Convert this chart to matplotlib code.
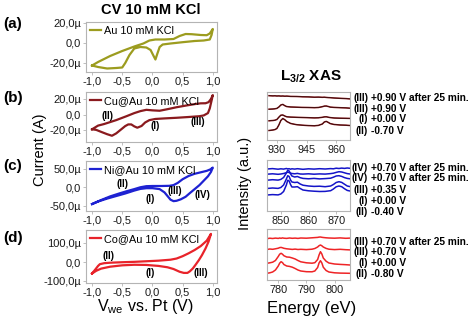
import numpy as np
import matplotlib
matplotlib.use("Agg")
import matplotlib.pyplot as plt
from matplotlib.transforms import blended_transform_factory

plt.rcParams["font.family"] = ["Liberation Sans", "DejaVu Sans"]
plt.rcParams["mathtext.fontset"] = "custom"
plt.rcParams["mathtext.rm"] = "Liberation Sans"
plt.rcParams["mathtext.bf"] = "Liberation Sans:bold"

# ---- cyclic voltammograms (V vs. Pt, current in uA), forward then reverse sweep
au_v = [-1.0, -0.9, -0.7, -0.5, -0.3, -0.15, -0.05, 0.05, 0.2, 0.35, 0.45, 0.55, 0.65, 0.8, 0.9, 0.95, 1.0,
        0.98, 0.95, 0.85, 0.7, 0.5, 0.3, 0.17, 0.12, 0.08, 0.05, 0.02, -0.03, -0.1, -0.2, -0.3, -0.38,
        -0.45, -0.5, -0.6, -0.75, -0.9, -1.0]
au_i = [-22.5, -19, -13, -8, -3.5, -0.5, 2.5, 3.5, 3.5, 4, 7, 9, 8.8, 8, 7.8, 9.5, 14,
        8, 3.5, 2.5, 2, 0.8, -0.5, -1.5, -4, -11, -16.5, -13, -7, -4.5, -4, -5.5, -12,
        -20, -24.5, -25, -25.5, -24, -22.5]

cu_v = [-1.0, -0.9, -0.8, -0.6, -0.43, -0.3, -0.2, -0.1, 0.0, 0.12, 0.25, 0.4, 0.56, 0.7, 0.8, 0.88, 0.93,
        0.97, 1.0,
        0.98, 0.95, 0.92, 0.85, 0.78, 0.6, 0.4, 0.2, 0.05, -0.05, -0.12, -0.18, -0.25, -0.3, -0.35, -0.4,
        -0.45, -0.52, -0.6, -0.67, -0.75, -0.85, -0.93, -1.0]
cu_i = [-18.7, -14, -12, -7, -2, 2, 4.5, 6.2, 5.5, 5, 7, 9.5, 11.7, 13.5, 14.5, 14.6, 16,
        20, 25,
        18, 8, 2, -1, -2, -3, -4, -4.8, -5.5, -7, -10, -14.5, -16.7, -15, -12.5, -12.5,
        -14.6, -19, -24, -27, -25, -22, -19.5, -18.7]

ni_v = [-1.0, -0.85, -0.7, -0.55, -0.43, -0.3, -0.2, -0.1, 0.0, 0.15, 0.28, 0.35, 0.42, 0.5, 0.6, 0.7,
        0.8, 0.9, 0.96, 1.0,
        0.97, 0.92, 0.85, 0.78, 0.7, 0.62, 0.55, 0.47, 0.4, 0.35, 0.3, 0.25, 0.2, 0.12, 0.0, -0.1,
        -0.2, -0.3, -0.45, -0.6, -0.75, -0.9, -1.0]
ni_i = [-46, -35, -25, -17, -11, -5, 0, 3, 3.5, 3.5, 4, 6, 12, 22, 31, 37,
        41, 45, 49, 54,
        42, 30, 18, 6, -5, -16, -26, -33, -37, -38, -34, -24, -14, -5, -2.5, -2.5,
        -4.5, -9, -17, -24, -31, -39, -46]

co_v = [-1.0, -0.95, -0.9, -0.87, -0.8, -0.7, -0.5, -0.3, -0.1, 0.1, 0.3, 0.4, 0.5, 0.6, 0.7, 0.8,
        0.9, 0.97,
        0.93, 0.88, 0.82, 0.77, 0.72, 0.67, 0.62, 0.58, 0.52, 0.45, 0.35, 0.25, 0.1, -0.1, -0.3,
        -0.5, -0.7, -0.85, -0.93, -1.0]
co_i = [-59, -40, -20, -11, -6, -3.5, -1, 1, 4, 7, 12, 18, 30, 45, 62, 82,
        110, 145,
        105, 70, 35, 10, -12, -33, -48, -56, -56, -50, -36, -27, -20, -15, -14,
        -17, -24, -34, -45, -59]

cv_names = ["Au 10 mM KCl", "Cu@Au 10 mM KCl", "Ni@Au 10 mM KCl", "Co@Au 10 mM KCl"]
cv_ticks = [[-20, 0, 20], [-20, 0, 20], [-50, 0, 50], [-100, 0, 100]]
cv_ticklabels = [["-20,0µ", "0,0", "20,0µ"], ["-20,0µ", "0,0", "20,0µ"],
                 ["-50,0µ", "0,0", "50,0µ"], ["-100,0µ", "0,0", "100,0µ"]]
v_ticks = [-1.0, -0.5, 0.0, 0.5, 1.0]
v_ticklabels = ["-1,0", "-0,5", "0,0", "0,5", "1,0"]

# peak labels on the CVs: (panel, text, V, I)
cv_peaks = [(1, "(II)", -0.75, -2), (1, "(I)", 0.04, -14), (1, "(III)", 0.75, -10),
            (2, "(II)", -0.49, 9), (2, "(I)", -0.04, -33), (2, "(III)", 0.37, -11), (2, "(IV)", 0.83, -22),
            (3, "(II)", -0.72, 30), (3, "(I)", -0.04, -55), (3, "(III)", 0.8, -59)]

# ---- L3/2 XAS spectra (offset stacked, arb. units)
cu_e = [926, 928, 929, 930, 931, 932, 933, 934, 935, 937, 940, 943, 946, 949, 951, 953, 954, 955, 956,
        957, 959, 962, 965, 967]
cu_090_25 = [44.3, 44.1, 44.2, 44.0, 44.1, 43.9, 44.0, 43.8, 43.9, 43.6, 43.5, 43.2, 43.1, 42.8, 42.9,
             42.7, 42.8, 42.6, 42.4, 42.3, 42.0, 41.7, 41.4, 41.1]
cu_090 = [30.8, 31.0, 31.2, 31.6, 33.0, 35.0, 35.6, 34.3, 33.4, 33.0, 32.8, 32.6, 32.5, 32.3, 32.5, 33.3,
          33.9, 34.0, 33.5, 32.9, 32.6, 32.3, 32.1, 31.8]
cu_000 = [19.2, 19.5, 19.8, 20.5, 22.8, 24.8, 25.0, 24.0, 23.2, 22.9, 22.7, 22.5, 22.3, 22.1, 22.2, 22.7,
          23.1, 23.2, 22.8, 22.4, 22.0, 21.8, 21.7, 21.6]
cu_m070 = [9.5, 10.0, 10.4, 11.5, 15.0, 19.5, 21.5, 20.3, 18.5, 16.5, 15.3, 14.8, 14.4, 14.2, 14.6, 16.0,
           18.0, 18.6, 17.6, 16.4, 15.5, 15.0, 14.8, 14.5]

ni_e = [845, 847, 849, 850, 851, 852, 852.5, 853, 853.5, 854, 855, 856, 857, 858, 860, 862, 864, 866,
        868, 869, 870, 871, 872, 873, 874, 875]
ni_070_25a = [42.0, 42.4, 41.8, 42.2, 41.9, 42.5, 42.1, 42.3, 41.8, 42.2, 41.9, 42.3, 42.0, 41.7, 42.2,
              41.9, 42.3, 42.0, 42.4, 42.2, 42.8, 42.5, 42.9, 42.6, 43.0, 42.7]
ni_070_25b = [36.8, 37.2, 36.7, 37.0, 37.5, 38.3, 38.8, 38.5, 37.9, 37.5, 37.2, 37.6, 37.0, 36.9, 37.2,
              36.8, 37.1, 36.9, 37.4, 37.8, 38.6, 39.3, 39.0, 38.2, 37.4, 37.0]
ni_035 = [30.8, 31.3, 30.9, 31.6, 33.5, 38.0, 40.8, 40.0, 37.2, 35.0, 34.0, 34.5, 33.3, 32.6, 32.2, 32.6,
          32.1, 32.4, 32.8, 33.8, 35.0, 35.3, 34.6, 33.4, 32.6, 32.2]
ni_000 = [22.5, 23.0, 22.6, 23.5, 26.0, 32.0, 35.3, 34.5, 31.0, 29.0, 28.5, 28.8, 27.0, 25.8, 25.0, 24.6,
          24.8, 24.3, 25.0, 26.5, 28.5, 29.3, 28.6, 26.8, 25.0, 24.4]
ni_m040 = [16.0, 16.4, 16.1, 17.0, 19.5, 26.0, 30.8, 30.0, 26.5, 24.0, 24.0, 24.3, 22.5, 21.0, 20.2, 19.8,
           19.5, 19.6, 20.3, 22.0, 24.2, 25.0, 24.3, 22.3, 20.6, 20.0]

co_e = [776, 777, 778, 779, 780, 780.5, 781, 781.5, 782, 783, 784, 785, 786, 787, 788, 790, 792, 793,
        794, 794.5, 795, 795.5, 796, 797, 798, 800, 802, 804, 805.5]
co_070_25 = [41.3, 41.8, 41.5, 41.9, 41.6, 42.0, 41.7, 42.1, 41.8, 41.6, 42.0, 41.7, 41.9, 41.6, 42.0,
             41.8, 42.2, 42.4, 42.6, 42.9, 43.0, 42.7, 42.5, 42.2, 42.0, 41.8, 42.1, 41.7, 41.9]
co_070 = [30.5, 31.0, 30.7, 31.2, 31.8, 32.4, 32.6, 32.2, 31.7, 31.2, 30.9, 30.6, 30.9, 30.5, 30.7, 30.4,
          30.8, 31.5, 33.0, 34.3, 35.0, 34.2, 33.0, 31.6, 30.8, 30.4, 30.7, 30.3, 30.1]
co_000 = [16.7, 17.2, 17.8, 19.5, 23.5, 25.8, 26.7, 25.8, 24.3, 23.0, 22.8, 22.0, 21.0, 19.5, 18.2, 17.2,
          16.8, 17.3, 20.5, 25.0, 28.3, 26.0, 22.0, 18.8, 17.0, 16.0, 15.6, 15.3, 15.0]
co_m080 = [6.7, 7.2, 8.0, 10.0, 14.0, 16.8, 18.3, 17.4, 15.5, 14.0, 13.6, 12.8, 11.5, 10.0, 9.0, 8.3, 8.2,
           9.0, 12.5, 17.0, 19.3, 17.0, 12.8, 9.5, 8.0, 7.2, 6.9, 6.8, 6.7]

cu_tags = ["(III)", "(III)", "(I)", "(II)"]
cu_volts = ["+0.90 V after 25 min.", "+0.90 V", "+0.00 V", "-0.70 V"]
ni_tags = ["(IV)", "(IV)", "(III)", "(I)", "(II)"]
ni_volts = ["+0.70 V after 25 min.", "+0.70 V after 25 min.", "+0.35 V", "+0.00 V", "-0.40 V"]
co_tags = ["(III)", "(III)", "(I)", "(II)"]
co_volts = ["+0.70 V after 25 min.", "+0.70 V", "+0.00 V", "-0.80 V"]

W, H = 474, 323
fig = plt.figure(figsize=(W / 100, H / 100), dpi=100)


def px_axes(left, top, right, bottom):
    return fig.add_axes([left / W, 1 - bottom / H, (right - left) / W, (bottom - top) / H])


def style_box(ax):
    for s in ax.spines.values():
        s.set_color("#b4b4b4")
        s.set_linewidth(0.8)
    ax.tick_params(length=2, width=0.6, color="#b4b4b4", labelcolor="#1a1a1a")


# ---- left column: CV
cv_rows = [(22, 72), (92, 142), (161, 211), (230, 283)]
cv_ylims = [(-29, 21), (-35, 29), (-65, 72), (-108, 165)]
cv_colors = ["#9c9c1f", "#8a1a1e", "#1e22d2", "#e8232a"]
cv_data = [(au_v, au_i), (cu_v, cu_i), (ni_v, ni_i), (co_v, co_i)]

cv_axes = []
for k, (top, bot) in enumerate(cv_rows):
    ax = px_axes(86, top, 217, bot)
    v, i = cv_data[k]
    ax.plot(v, i, color=cv_colors[k], lw=1.6, label=cv_names[k], solid_joinstyle="round")
    ax.set_xlim(-1.1, 1.07)
    ax.set_ylim(*cv_ylims[k])
    ax.set_xticks(v_ticks)
    ax.set_xticklabels(v_ticklabels)
    ax.set_yticks(cv_ticks[k])
    ax.set_yticklabels(cv_ticklabels[k])
    style_box(ax)
    ax.tick_params(labelsize=8, pad=1.5)
    ax.legend(loc="upper left", frameon=False, fontsize=7.8, handlelength=1.0,
              handletextpad=0.3, borderaxespad=0.15, borderpad=0.2)
    cv_axes.append(ax)

for k, txt, x, y in cv_peaks:
    cv_axes[k].text(x, y, txt, fontsize=7, fontweight="bold", ha="center", va="center")

for k, lab in enumerate(["(a)", "(b)", "(c)", "(d)"]):
    ypx = [24, 98, 166, 238][k]
    fig.text(13 / W, 1 - ypx / H, lab, fontsize=11, fontweight="bold", ha="center", va="center")

fig.text(151 / W, 1 - 10 / H, "CV 10 mM KCl", fontsize=10.5, fontweight="bold", ha="center", va="center")
fig.text(40 / W, 1 - 150 / H, "Current (A)", fontsize=10.5, rotation=90, ha="center", va="center")
fig.text(145 / W, 1 - 307 / H, r"V$_{\mathrm{we}}$ vs. Pt (V)", fontsize=11.5, ha="center", va="center")

# ---- right column: XAS
xas_rows = [(92, 140), (160, 211), (229, 280)]
xas_xlims = [(925, 967), (845, 875), (776, 805.5)]
xas_xticks = [[930, 945, 960], [850, 860, 870], [780, 790, 800]]
xas_colors = ["#8a1a1e", "#1414c8", "#ee2426"]
xas_e = [cu_e, ni_e, co_e]
xas_spectra = [[cu_090_25, cu_090, cu_000, cu_m070],
               [ni_070_25a, ni_070_25b, ni_035, ni_000, ni_m040],
               [co_070_25, co_070, co_000, co_m080]]
xas_tags = [cu_tags, ni_tags, co_tags]
xas_volts = [cu_volts, ni_volts, co_volts]
label_heights = [[42.3, 31.3, 20.7, 9.0],
                 [42.7, 33.3, 21.0, 10.0, -1.3],
                 [38.3, 28.3, 17.3, 5.7]]

for k, (top, bot) in enumerate(xas_rows):
    ax = px_axes(267, top, 350, bot)
    for spec in xas_spectra[k]:
        ax.plot(xas_e[k], spec, color=xas_colors[k], lw=1.1)
        if k == 0:
            # Cu spectra carry a thin dark trace on top of the red
            ax.plot(xas_e[k], spec, color="#2a0808", lw=0.5)
    ax.set_xlim(*xas_xlims[k])
    ax.set_ylim(0, bot - top)
    ax.set_xticks(xas_xticks[k])
    ax.set_yticks([])
    style_box(ax)
    ax.tick_params(labelsize=7.8, pad=1.5)
    trans = blended_transform_factory(ax.transAxes, ax.transData)
    for tag, volt, yl in zip(xas_tags[k], xas_volts[k], label_heights[k]):
        ax.text(1.217, yl, tag, transform=trans, fontsize=7.3, fontweight="bold",
                ha="right", va="center", clip_on=False)
        ax.text(1.253, yl, volt, transform=trans, fontsize=7.3, fontweight="bold",
                ha="left", va="center", clip_on=False)

fig.text(311 / W, 1 - 77 / H, r"L$_{\mathbf{3/2}}$ XAS", fontsize=11, fontweight="bold",
         ha="center", va="center")
fig.text(245 / W, 1 - 183 / H, "Intensity (a.u.)", fontsize=10.5, rotation=90, ha="center", va="center")
fig.text(312 / W, 1 - 308 / H, "Energy (eV)", fontsize=12, ha="center", va="center")

fig.savefig("out.png", dpi=100)
